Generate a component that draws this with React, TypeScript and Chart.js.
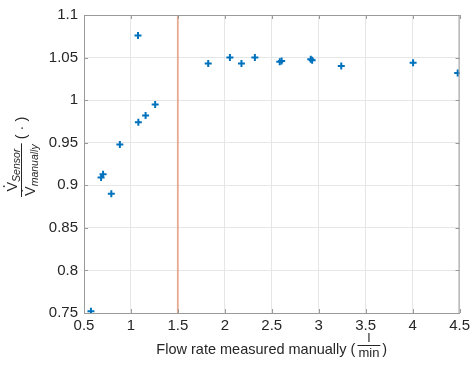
import React, { useEffect, useRef } from "react";
import { Chart, registerables } from "chart.js";

Chart.register(...registerables);

const flowManual = [0.574, 0.682, 0.703, 0.791, 0.882, 1.075, 1.079, 1.156, 1.258, 1.823, 2.054, 2.177, 2.32, 2.585, 2.605, 2.915, 2.93, 3.24, 4.005, 4.48];
const ratio = [0.752, 0.909, 0.913, 0.890, 0.948, 1.076, 0.974, 0.982, 0.995, 1.043, 1.050, 1.043, 1.050, 1.045, 1.046, 1.048, 1.047, 1.040, 1.044, 1.032];
const thresholdX = [1.5, 1.5];
const thresholdY = [0.75, 1.1];
const xTicks = [0.5, 1, 1.5, 2, 2.5, 3, 3.5, 4, 4.5];
const yTicks = [0.75, 0.8, 0.85, 0.9, 0.95, 1, 1.05, 1.1];

const FONT = "Liberation Sans, Arial, Helvetica, sans-serif";
const AXIS = "#9a9a9a";
const TEXT = "#262626";

const fmt = (v: number) => String(Number(v.toFixed(2)));

const decorPlugin = {
  id: "decor",
  afterDraw(chart: any) {
    const { ctx, chartArea: a, scales } = chart;
    const xs = scales.x, ys = scales.y;
    ctx.save();
    ctx.strokeStyle = AXIS;
    ctx.lineWidth = 1;
    ctx.beginPath();
    ctx.moveTo(a.left, a.top + 0.5);
    ctx.lineTo(a.right, a.top + 0.5);
    ctx.moveTo(a.right - 0.5, a.top);
    ctx.lineTo(a.right - 0.5, a.bottom);
    ctx.stroke();
    const tl = 4;
    ctx.beginPath();
    xTicks.forEach((t) => {
      const px = Math.round(xs.getPixelForValue(t)) + 0.5;
      ctx.moveTo(px, a.bottom);
      ctx.lineTo(px, a.bottom - tl);
      ctx.moveTo(px, a.top);
      ctx.lineTo(px, a.top + tl);
    });
    yTicks.forEach((t) => {
      const py = Math.round(ys.getPixelForValue(t)) + 0.5;
      ctx.moveTo(a.left, py);
      ctx.lineTo(a.left + tl, py);
      ctx.moveTo(a.right, py);
      ctx.lineTo(a.right - tl, py);
    });
    ctx.stroke();

    ctx.fillStyle = TEXT;
    ctx.strokeStyle = TEXT;
    const main = "Flow rate measured manually (";
    ctx.font = `14.5px ${FONT}`;
    const wMain = ctx.measureText(main).width;
    ctx.font = `13px ${FONT}`;
    const wMin = ctx.measureText("min").width;
    const fracW = wMin + 2;
    ctx.font = `14.5px ${FONT}`;
    const wClose = ctx.measureText(")").width;
    const total = wMain + 2 + fracW + 2 + wClose;
    const cx = (a.left + a.right) / 2;
    const x0 = cx - total / 2;
    const base = 354;
    ctx.textAlign = "left";
    ctx.textBaseline = "alphabetic";
    ctx.fillText(main, x0, base);
    const fx = x0 + wMain + 2;
    ctx.lineWidth = 1;
    ctx.beginPath();
    ctx.moveTo(fx, 345.5);
    ctx.lineTo(fx + fracW, 345.5);
    ctx.stroke();
    ctx.font = `13px ${FONT}`;
    ctx.textAlign = "center";
    ctx.fillText("l", fx + fracW / 2, 342);
    ctx.fillText("min", fx + fracW / 2, 357);
    ctx.font = `14.5px ${FONT}`;
    ctx.textAlign = "left";
    ctx.fillText(")", fx + fracW + 2, base);

    ctx.translate(21, 163);
    ctx.rotate(-Math.PI / 2);
    const drawVSub = (sub: string, xStart: number, yBase: number) => {
      ctx.font = `14.5px ${FONT}`;
      ctx.textAlign = "left";
      ctx.fillText("V", xStart, yBase);
      const wV = ctx.measureText("V").width;
      ctx.beginPath();
      ctx.arc(xStart + wV / 2 + 0.5, yBase - 13, 0.9, 0, Math.PI * 2);
      ctx.fill();
      ctx.font = `italic 10.5px ${FONT}`;
      ctx.fillText(sub, xStart + wV, yBase + 3);
      return wV + ctx.measureText(sub).width;
    };
    ctx.font = `14.5px ${FONT}`;
    const wV = ctx.measureText("V").width;
    ctx.font = `italic 10.5px ${FONT}`;
    const wNum = wV + ctx.measureText("Sensor").width;
    const wDen = wV + ctx.measureText("manually").width;
    const fw = Math.max(wNum, wDen) + 2;
    const fLeft = -34;
    ctx.beginPath();
    ctx.lineWidth = 1;
    ctx.moveTo(fLeft, 0.5);
    ctx.lineTo(fLeft + fw, 0.5);
    ctx.stroke();
    drawVSub("Sensor", fLeft + (fw - wNum) / 2, -4);
    drawVSub("manually", fLeft + (fw - wDen) / 2, 14);
    ctx.font = `14.5px ${FONT}`;
    ctx.textAlign = "left";
    ctx.fillText("( \u00B7 )", fLeft + fw + 4, 5);
    ctx.restore();
  },
};

export default function App() {
  const ref = useRef<HTMLCanvasElement | null>(null);
  useEffect(() => {
    document.body.style.margin = "0";
    if (!ref.current) return;
    const chart = new Chart(ref.current, {
      type: "scatter",
      data: {
        datasets: [
          {
            data: flowManual.map((x, i) => ({ x, y: ratio[i] })),
            pointStyle: "cross",
            pointRadius: 3.5,
            borderWidth: 2,
            borderColor: "#0072BD",
            backgroundColor: "#0072BD",
            order: 1,
          },
          {
            data: thresholdX.map((x, i) => ({ x, y: thresholdY[i] })),
            showLine: true,
            pointRadius: 0,
            borderWidth: 2,
            borderColor: "rgba(217,83,25,0.4)",
            order: 2,
          },
        ],
      },
      options: {
        animation: false,
        responsive: false,
        layout: { padding: { top: 7, right: 10, left: 0, bottom: 0 } },
        plugins: { legend: { display: false }, tooltip: { enabled: false } },
        scales: {
          x: {
            type: "linear",
            min: 0.5,
            max: 4.5,
            afterBuildTicks: (s: any) => {
              s.ticks = xTicks.map((v) => ({ value: v }));
            },
            afterFit: (s: any) => {
              s.height = 53;
            },
            ticks: {
              callback: (v: any) => fmt(Number(v)),
              color: TEXT,
              font: { family: FONT, size: 15 },
              padding: 4,
              maxRotation: 0,
            },
            grid: { color: "#e6e6e6", drawTicks: false },
            border: { color: AXIS },
          },
          y: {
            type: "linear",
            min: 0.75,
            max: 1.1,
            afterBuildTicks: (s: any) => {
              s.ticks = yTicks.map((v) => ({ value: v }));
            },
            afterFit: (s: any) => {
              s.width = 84;
            },
            ticks: {
              callback: (v: any) => fmt(Number(v)),
              color: TEXT,
              font: { family: FONT, size: 15 },
              padding: 6,
            },
            grid: { color: "#e6e6e6", drawTicks: false },
            border: { color: AXIS },
          },
        },
      },
      plugins: [decorPlugin],
    });
    return () => chart.destroy();
  }, []);
  return <canvas ref={ref} width={474} height={366} style={{ display: "block" }} />;
}
